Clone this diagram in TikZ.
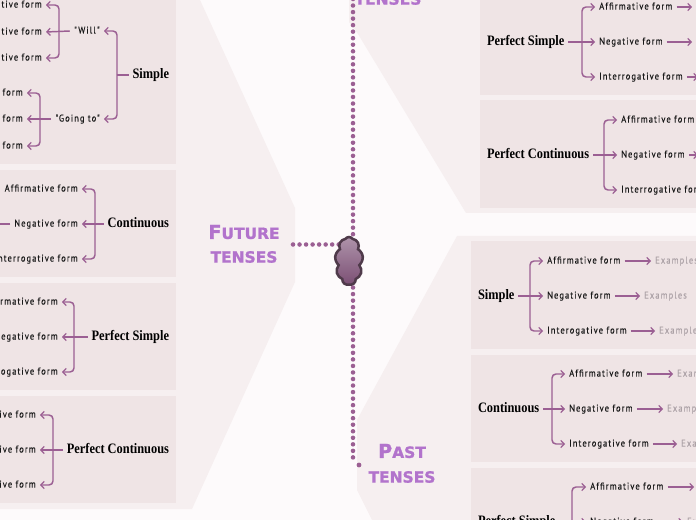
\documentclass[tikz,border=0pt]{standalone}
\usepackage{fontspec}
\usetikzlibrary{arrows.meta,shapes.symbols}
\newfontfamily\formfont[FakeStretch=0.86,LetterSpace=11,FakeBold=0.25]{PT Sans}
\newfontfamily\labfont[FakeStretch=0.86]{Liberation Serif}
\newfontfamily\titlefont[BoldFeatures={FakeBold=1.4}]{DejaVu Sans}
\definecolor{bgc}{HTML}{FDFAFB}
\definecolor{panelc}{HTML}{F6EFF0}
\definecolor{boxc}{HTML}{EFE4E5}
\definecolor{linkc}{HTML}{9B5F93}
\definecolor{titlec}{HTML}{B273CC}
\definecolor{exc}{HTML}{ABA1A6}
\definecolor{hubedge}{HTML}{4F3A4A}
\definecolor{hubtopc}{HTML}{AE93AA}
\definecolor{hubbotc}{HTML}{7B4F74}
\tikzset{
  x=0.75pt,y=-0.75pt,
  panel/.style={fill=panelc,draw=none},
  innerbox/.style={fill=boxc,draw=none},
  conn/.style={draw=linkc,line width=1.1pt,rounded corners=3pt,-{Straight Barb[length=2.6pt,width=5.5pt,line width=0.9pt]}},
  stub/.style={draw=linkc,line width=1.1pt},
  dots/.style={draw=linkc,line width=3.4pt,line cap=round,dash pattern=on 0pt off 4.9pt},
  enddot/.style={fill=linkc,draw=none,circle,minimum size=3.6pt,inner sep=0pt},
  formtext/.style={inner sep=3pt,text height=5.2pt,text depth=1.4pt,text=black!90,font=\formfont\fontsize{7.4}{9}\selectfont},
  extext/.style={formtext,text=exc},
  labtext/.style={inner sep=2.8pt,text height=6.5pt,text depth=1.6pt,text=black,font=\labfont\bfseries\fontsize{10.8}{13}\selectfont},
  titletext/.style={text=titlec,inner sep=0pt,font=\titlefont\bfseries},
  hubshape/.style={cloud,cloud puffs=9,cloud puff arc=110,aspect=0.6,minimum width=21pt,minimum height=36pt,inner sep=0pt,
    draw=hubedge,line width=1.9pt,top color=hubtopc,bottom color=hubbotc},
}
\newcommand{\bigc}[1]{{\fontsize{14.4}{16}\selectfont #1}}
\newcommand{\smc}[1]{{\fontsize{11.6}{16}\selectfont #1}}
% right-going branch: id, form x, y, text, example x
\newcommand{\RF}[5]{%
  \node[formtext,anchor=west] (#1) at (#2,#3) {#4};
  \node[extext,anchor=west] (#1x) at (#5,#3) {Examples};
  \draw[conn] (#1.east) -- (#1x.west);}
\newcommand{\RT}[9]{% id,label,lab x,y,trunk x,form x,exA,exB,exC
  \node[labtext,anchor=west] (#1) at (#3,#4) {#2};
  \coordinate (#1t) at (#5,#4);
  \RF{#1a}{#6}{\numexpr#4-35\relax}{Affirmative form}{#7}
  \RF{#1b}{#6}{#4}{Negative form}{#8}
  \RF{#1c}{#6}{\numexpr#4+35\relax}{\FormC}{#9}
  \draw[conn] (#1.east) -- (#1b.west);
  \draw[conn] (#1t) |- (#1a.west);
  \draw[conn] (#1t) |- (#1c.west);}
\newcommand{\LF}[4]{% id, right x, y, text
  \node[formtext,anchor=east] (#1) at (#2,#3) {#4};}
\newcommand{\LT}[6]{% id,label,lab right x,y,trunk x,form right x
  \node[labtext,anchor=east] (#1) at (#3,#4) {#2};
  \coordinate (#1t) at (#5,#4);
  \LF{#1a}{#6}{\numexpr#4-35\relax}{Affirmative form}
  \LF{#1b}{#6}{#4}{Negative form}
  \LF{#1c}{#6}{\numexpr#4+35\relax}{Interrogative form}
  \draw[conn] (#1.west) -- (#1b.east);
  \draw[conn] (#1t) |- (#1a.east);
  \draw[conn] (#1t) |- (#1c.east);}
\begin{document}
\begin{tikzpicture}
\useasboundingbox (0,0) rectangle (696,520);
\clip (0,0) rectangle (696,520);
\fill[bgc] (0,0) rectangle (696,520);
% panels
\path[panel] (0,0) -- (200,0) -- (295,208) -- (295,282) -- (192,509) -- (0,509) -- cycle;
\path[panel] (349,0) -- (349,22) -- (358,34) -- (466,213) -- (696,213) -- (696,0) -- cycle;
\path[panel] (457,236) -- (357,420) -- (357,490) -- (372,520) -- (696,520) -- (696,236) -- cycle;
% inner boxes
\path[innerbox] (0,0) rectangle (176,164);
\path[innerbox] (0,170) rectangle (176,277);
\path[innerbox] (0,283) rectangle (176,390);
\path[innerbox] (0,396) rectangle (176,503);
\path[innerbox] (480,0) rectangle (696,95);
\path[innerbox] (480,100) rectangle (696,208);
\path[innerbox] (471,241) rectangle (696,349);
\path[innerbox] (471,355) rectangle (696,462);
\path[innerbox] (471,468) rectangle (696,520);
% titles
\node[titletext] (top) at (388,-1) {\smc{TENSES}};
\node[titletext] (fut) at (244,232) {\bigc{F}\smc{UTURE}};
\node[titletext] (futb) at (244,257) {\smc{TENSES}};
\node[titletext] (pas) at (402,451) {\bigc{P}\smc{AST}};
\node[titletext] (pasb) at (402,477) {\smc{TENSES}};
\coordinate (futend) at (293,244.5);
\coordinate (topend) at (353,-1);
\coordinate (pasmid) at (353,462);
\node[enddot] (pasend) at (359,465) {};
\coordinate (hubtopj) at (353,245);
\coordinate (hubleftj) at (345,244.5);
\coordinate (hubbotj) at (353,281);
% dotted links, then the central topic over them
\draw[dots] (topend) -- (hubtopj);
\draw[dots] (futend) -- (hubleftj);
\draw[dots] (hubbotj) -- (pasmid);
\node[hubshape] (hub) at (349,261) {};
\begin{scope}[yshift=-0.75pt]
% top right
\def\FormC{Interrogative form}
\RT{pe}{Perfect Simple}{483}{41}{582}{595}{692}{692}{698}
\RT{pc}{Perfect Continuous}{483}{154}{604}{617}{698}{698}{698}
% lower right
\def\FormC{Interogative form}
\RT{ps}{Simple}{474}{295}{530}{543}{651}{640}{655}
\RT{pt}{Continuous}{474}{408}{552}{565}{673}{663}{677}
\def\FormC{Interrogative form}
\RT{pp}{Perfect Simple}{474}{521}{572}{586}{694}{683}{698}
% left: simple
\node[labtext,anchor=east] (fs) at (173,74) {Simple};
\node[formtext,anchor=east] (will) at (104,30) {"Will"};
\node[formtext,anchor=east] (going) at (104,118) {"Going to"};
\coordinate (fst) at (117,74);
\draw[conn] (fst) |- (will.east);
\draw[conn] (fst) |- (going.east);
\draw[stub] (fs.west) -- (fst);
\LF{wa}{46}{4}{Affirmative form}
\LF{wb}{46}{31}{Negative form}
\LF{wc}{46}{57}{Interrogative form}
\coordinate (wt) at (59,31);
\draw[conn] (will.west) -- (wb.east);
\draw[conn] (wt) |- (wa.east);
\draw[conn] (wt) |- (wc.east);
\LF{ga}{27}{92}{Affirmative form}
\LF{gb}{27}{118}{Negative form}
\LF{gc}{27}{145}{Interrogative form}
\coordinate (gt) at (40,118);
\draw[conn] (going.west) -- (gb.east);
\draw[conn] (gt) |- (ga.east);
\draw[conn] (gt) |- (gc.east);
% left: others
\LT{fc}{Continuous}{173}{223}{95}{82}
\coordinate (fcout) at (-5,223);
\draw[stub] (fcb.west) -- (fcout);
\LT{fp}{Perfect Simple}{173}{336}{74}{62}
\LT{fq}{Perfect Continuous}{173}{449}{53}{40}
\end{scope}
\end{tikzpicture}
\end{document}
